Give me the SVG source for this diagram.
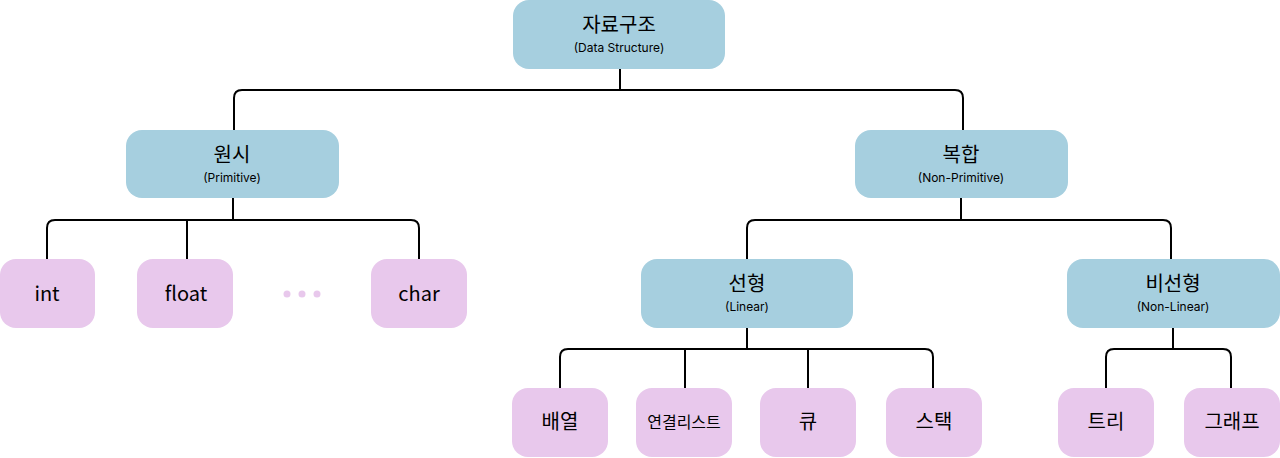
<svg xmlns="http://www.w3.org/2000/svg" width="1280" height="458" viewBox="0 0 1280 458">
<style>
.b{fill:#a6cfdf}.p{fill:#e8c8ec}
.t{font-family:"Noto Sans CJK KR","Inter",sans-serif;font-size:20px;fill:#000;text-anchor:middle}
.s{font-family:"Inter","Noto Sans",sans-serif;font-size:12px;fill:#000;text-anchor:middle}
.l{fill:none;stroke:#000;stroke-width:2;stroke-linejoin:round}
</style>
<rect width="1280" height="458" fill="#fff"/>
<g id="connectors" class="l">
<path d="M620 69V90M234 130V98Q234 90 242 90H955Q963 90 963 98V130"/>
<path d="M233 198V220M47 259V228Q47 220 55 220H411Q419 220 419 228V259M187 220V259"/>
<path d="M961 198V220M747 259V228Q747 220 755 220H1163Q1171 220 1171 228V259"/>
<path d="M747 328V349M560 388V357Q560 349 568 349H925Q933 349 933 357V388M685 349V388M808 349V388"/>
<path d="M1173 328V349M1106 388V357Q1106 349 1114 349H1223Q1231 349 1231 357V388"/>
</g>
<g id="root"><rect class="b" x="513" y="0" width="212" height="69" rx="16"/><text class="t" x="619" y="32">자료구조</text><text class="s" x="619" y="52">(Data Structure)</text></g>
<g id="primitive"><rect class="b" x="126" y="130" width="213" height="68" rx="16"/><text class="t" x="232" y="162">원시</text><text class="s" x="232" y="182">(Primitive)</text></g>
<g id="nonprimitive"><rect class="b" x="855" y="130" width="213" height="68" rx="16"/><text class="t" x="961" y="162">복합</text><text class="s" x="961" y="182">(Non-Primitive)</text></g>
<g id="int"><rect class="p" x="0" y="259" width="95" height="69" rx="16"/><text class="t" x="47" y="301">int</text></g>
<g id="float"><rect class="p" x="137" y="259" width="96" height="69" rx="16"/><text class="t" x="186" y="301">float</text></g>
<g id="dots" fill="#e8c8ec"><circle cx="287" cy="294" r="3.5"/><circle cx="302" cy="294" r="3.5"/><circle cx="317" cy="294" r="3.5"/></g>
<g id="char"><rect class="p" x="371" y="259" width="96" height="69" rx="16"/><text class="t" x="419" y="301">char</text></g>
<g id="linear"><rect class="b" x="641" y="259" width="212" height="69" rx="16"/><text class="t" x="747" y="291">선형</text><text class="s" x="747" y="311">(Linear)</text></g>
<g id="nonlinear"><rect class="b" x="1067" y="259" width="213" height="69" rx="16"/><text class="t" x="1173" y="291">비선형</text><text class="s" x="1173" y="311">(Non-Linear)</text></g>
<g id="array"><rect class="p" x="512" y="388" width="96" height="69" rx="16"/><text class="t" x="560" y="429">배열</text></g>
<g id="linkedlist"><rect class="p" x="636" y="388" width="96" height="69" rx="16"/><text class="t" x="684" y="428" style="font-size:16px">연결리스트</text></g>
<g id="queue"><rect class="p" x="760" y="388" width="96" height="69" rx="16"/><text class="t" x="808" y="429">큐</text></g>
<g id="stack"><rect class="p" x="886" y="388" width="96" height="69" rx="16"/><text class="t" x="934" y="429">스택</text></g>
<g id="tree"><rect class="p" x="1058" y="388" width="96" height="69" rx="16"/><text class="t" x="1106" y="429">트리</text></g>
<g id="graph"><rect class="p" x="1184" y="388" width="96" height="69" rx="16"/><text class="t" x="1232" y="429">그래프</text></g>
</svg>
